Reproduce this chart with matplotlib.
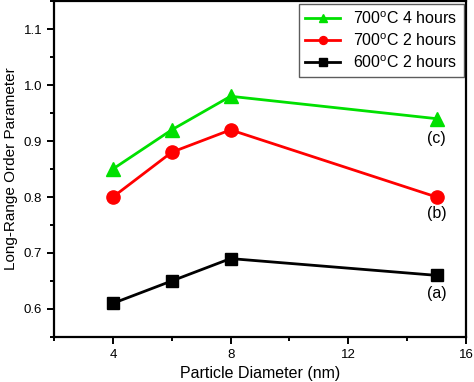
import matplotlib.pyplot as plt
from matplotlib.ticker import MultipleLocator

# 数据
diameter = [4, 6, 8, 15]
order_700_4h = [0.85, 0.92, 0.98, 0.94]
order_700_2h = [0.80, 0.88, 0.92, 0.80]
order_600_2h = [0.61, 0.65, 0.69, 0.66]
labels = ["700$^\\mathrm{o}$C 4 hours", "700$^\\mathrm{o}$C 2 hours", "600$^\\mathrm{o}$C 2 hours"]
tags = ["(c)", "(b)", "(a)"]

plt.rcParams['font.family'] = ['Liberation Sans', 'DejaVu Sans']
plt.rcParams['mathtext.fontset'] = 'custom'
plt.rcParams['mathtext.rm'] = 'Liberation Sans'

fig = plt.figure(figsize=(4.74, 3.82), dpi=100)
ax = fig.add_axes([0.114, 0.118, 0.869, 0.879])

ax.plot(diameter, order_700_4h, color="#00e000", marker="^", markersize=10, lw=2, label=labels[0])
ax.plot(diameter, order_700_2h, color="#ff0000", marker="o", markersize=9.5, lw=2, label=labels[1])
ax.plot(diameter, order_600_2h, color="black", marker="s", markersize=8.5, lw=2, label=labels[2])

# 曲线标注
ax.text(15, order_700_4h[-1] - 0.036, tags[0], ha="center", va="center", fontsize=11.5)
ax.text(15, order_700_2h[-1] - 0.03, tags[1], ha="center", va="center", fontsize=11.5)
ax.text(15, order_600_2h[-1] - 0.033, tags[2], ha="center", va="center", fontsize=11.5)

ax.set_xlim(2, 16)
ax.set_ylim(0.55, 1.15)
ax.xaxis.set_major_locator(MultipleLocator(4))
ax.xaxis.set_minor_locator(MultipleLocator(2))
ax.yaxis.set_major_locator(MultipleLocator(0.1))
ax.yaxis.set_minor_locator(MultipleLocator(0.05))
ax.tick_params(which="major", direction="out", length=5, width=1.4, labelsize=9.5)
ax.tick_params(which="minor", direction="out", length=3, width=1.4)
for s in ax.spines.values():
    s.set_linewidth(1.6)

ax.set_xlabel("Particle Diameter (nm)", fontsize=11.5)
ax.set_ylabel("Long-Range Order Parameter", fontsize=11)

leg = ax.legend(loc="upper right", fontsize=11.5, fancybox=False, edgecolor="#333333",
                handlelength=2.2, markerscale=0.6, borderaxespad=0.15, labelspacing=0.35)
leg.get_frame().set_linewidth(1.0)

fig.savefig("out.png", dpi=100)
